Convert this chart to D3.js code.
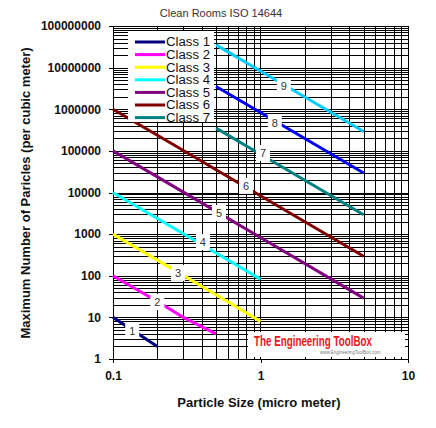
<!DOCTYPE html>
<html>
<head>
<meta charset="utf-8">
<script src="https://cdn.jsdelivr.net/npm/d3@7"></script>
<style>
  body { margin: 0; background: #fff; }
  svg { display: block; font-family: "Liberation Sans", Arial, sans-serif; }
</style>
</head>
<body>
<div id="chart"></div>
<script>
// ISO 14644 class limits (particles per m3)
const classNames = ["Class 1", "Class 2", "Class 3", "Class 4", "Class 5", "Class 6", "Class 7", "Class 8", "Class 9"];
const classColors = ["#000080", "#ff00ff", "#ffff00", "#00ffff", "#800080", "#800000", "#008080", "#0000ff", "#00ccff"];
const sizes = [0.1, 0.2, 0.3, 0.5, 1, 5];
const class1 = [10, 2, null, null, null, null];
const class2 = [100, 24, 10, 4, null, null];
const class3 = [1000, 237, 102, 35, 8, null];
const class4 = [10000, 2370, 1020, 352, 83, null];
const class5 = [100000, 23700, 10200, 3520, 832, 29];
const class6 = [1000000, 237000, 102000, 35200, 8320, 293];
const class7 = [null, null, null, 352000, 83200, 2930];
const class8 = [null, null, null, 3520000, 832000, 29300];
const class9 = [null, null, null, 35200000, 8320000, 293000];
const seriesValues = [class1, class2, class3, class4, class5, class6, class7, class8, class9];
// where the class number labels sit on each line
const labelX = [0.135, 0.2, 0.276, 0.407, 0.523, 0.798, 1.04, 1.25, 1.44];
const labelY = [4.7, 23.4, 117, 646, 3230, 14400, 89000, 470000, 3600000];
const xTicks = [0.1, 1, 10];
const yTicks = [1, 10, 100, 1000, 10000, 100000, 1000000, 10000000, 100000000];
const legendCount = 7; // legend box only shows first seven

const W = 436, H = 428;
const svg = d3.select("#chart").append("svg").attr("width", W).attr("height", H);

const x = d3.scaleLog().domain([0.1, 10]).range([113, 408]);
const y = d3.scaleLog().domain([1, 1e8]).range([359, 26]);

// title
svg.append("text")
  .attr("x", 221).attr("y", 17)
  .attr("text-anchor", "middle")
  .attr("font-size", 11).attr("fill", "#333")
  .text("Clean Rooms ISO 14644");

// grid
const grid = svg.append("g").attr("shape-rendering", "crispEdges")
  .attr("stroke", "#000").attr("stroke-width", 1);
grid.selectAll(".vx").data(x.ticks()).join("line")
  .attr("x1", d => Math.round(x(d)) + 0.5).attr("x2", d => Math.round(x(d)) + 0.5)
  .attr("y1", y(1e8)).attr("y2", y(1));
grid.selectAll(".hy").data(y.ticks()).join("line")
  .attr("y1", d => Math.round(y(d)) + 0.5).attr("y2", d => Math.round(y(d)) + 0.5)
  .attr("x1", x(0.1)).attr("x2", x(10));

// axes
const yAxis = svg.append("g")
  .attr("transform", "translate(" + x(0.1) + ",0)")
  .call(d3.axisLeft(y).tickValues(yTicks).tickFormat(d3.format("d")).tickSize(4).tickPadding(8));
const xAxis = svg.append("g")
  .attr("transform", "translate(0," + y(1) + ")")
  .call(d3.axisBottom(x).tickValues(xTicks).tickFormat(d => String(d)).tickSize(4).tickPadding(8));
[xAxis, yAxis].forEach(a => {
  a.selectAll("text").attr("font-size", 12).attr("font-weight", "bold").attr("fill", "#111")
    .attr("font-family", "'Liberation Sans', Arial, sans-serif");
  a.selectAll("path,line").attr("stroke", "#000").attr("shape-rendering", "crispEdges");
});

// axis titles
svg.append("text")
  .attr("transform", "translate(30,193) rotate(-90)")
  .attr("text-anchor", "middle")
  .attr("font-size", 13).attr("font-weight", "bold").attr("fill", "#111")
  .text("Maximum Number of Paricles (per cubic meter)");
svg.append("text")
  .attr("x", 259).attr("y", 407)
  .attr("text-anchor", "middle")
  .attr("font-size", 13).attr("font-weight", "bold").attr("fill", "#111")
  .text("Particle Size (micro meter)");

// class lines
const line = d3.line()
  .defined(d => d.v != null)
  .x(d => x(d.s)).y(d => y(d.v));
const series = seriesValues.map((vals, i) => ({
  name: classNames[i],
  color: classColors[i],
  points: sizes.map((s, j) => ({ s: s, v: vals[j] })).filter(p => p.v != null)
}));
svg.append("g").selectAll("path").data(series).join("path")
  .attr("fill", "none")
  .attr("stroke", d => d.color)
  .attr("stroke-width", 3)
  .attr("d", d => line(d.points));

// class number labels
const lab = svg.append("g").selectAll("g").data(series).join("g")
  .attr("transform", (d, i) => "translate(" + x(labelX[i]) + "," + y(labelY[i]) + ")");
lab.append("rect").attr("x", -7).attr("y", -8).attr("width", 14).attr("height", 16).attr("fill", "#fff");
lab.append("text").attr("text-anchor", "middle").attr("dy", "0.36em")
  .attr("font-size", 11).attr("fill", "#333")
  .text((d, i) => i + 1);

// legend
const legend = svg.append("g");
legend.append("rect").attr("x", 128).attr("y", 31).attr("width", 86).attr("height", 91).attr("fill", "#fff");
const li = legend.selectAll(".li").data(series.slice(0, legendCount)).join("g")
  .attr("transform", (d, i) => "translate(135," + (42 + i * 12.6) + ")");
li.append("line").attr("x1", 0).attr("x2", 30).attr("stroke", d => d.color).attr("stroke-width", 3);
li.append("text").attr("x", 31).attr("dy", "0.36em")
  .attr("font-size", 12).attr("fill", "#111")
  .attr("textLength", 44).attr("lengthAdjust", "spacingAndGlyphs")
  .text(d => d.name);

// watermark
const wm = svg.append("g");
wm.append("rect").attr("x", 248).attr("y", 332).attr("width", 157).attr("height", 25).attr("fill", "#fff");
wm.append("text").attr("x", 254).attr("y", 346)
  .attr("font-size", 15).attr("font-weight", "bold").attr("fill", "#e8141c")
  .attr("font-family", "'Liberation Sans Narrow', 'Liberation Sans', sans-serif")
  .attr("textLength", 118).attr("lengthAdjust", "spacingAndGlyphs")
  .text("The Engineering ToolBox");
wm.append("text").attr("x", 320).attr("y", 354)
  .attr("font-size", 4.5).attr("fill", "#777")
  .text("www.EngineeringToolBox.com");
</script>
</body>
</html>
